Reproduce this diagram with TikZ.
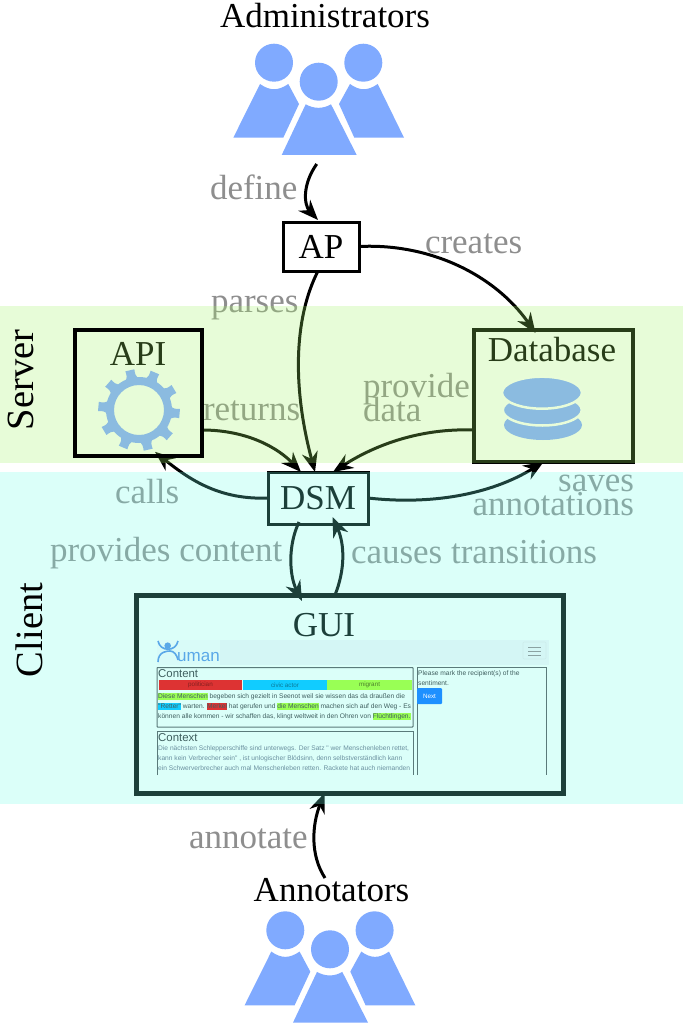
\documentclass[tikz,border=0pt]{standalone}
\usepackage{fontspec}
\setmainfont{Liberation Serif}
\newfontfamily\shotfont{Liberation Sans}
\usetikzlibrary{arrows.meta,calc}
\definecolor{lbl}{HTML}{8E8E8E}
\definecolor{srvband}{rgb}{.64,.96,.4}
\definecolor{cliband}{rgb}{.45,1,.92}
\definecolor{srvbg}{rgb}{.91,.99,.85}
\definecolor{clibg}{rgb}{.863,1,.98}
\definecolor{person}{HTML}{80AAFF}
\definecolor{iconblue}{HTML}{8BBBE0}
\definecolor{shotline}{HTML}{5A7A7A}
\definecolor{shottext}{HTML}{3F5F5F}
\definecolor{ctxtext}{HTML}{6A909F}
\definecolor{navbg}{HTML}{D4F6F5}
\definecolor{logoblue}{HTML}{5AA8E8}
\definecolor{hlred}{HTML}{DD3333}
\definecolor{hlblue}{HTML}{11CCFF}
\definecolor{hlgreen}{HTML}{99FF55}
\definecolor{nextblue}{HTML}{1E90FF}
\setlength{\fboxsep}{0pt}
\newcommand{\hlt}[2]{\colorbox{#1}{\strut #2}}
\newcommand{\peopleicon}{%
  \fill[person] (274,62.7) circle (19);
  \fill[person] (363.3,62.7) circle (19);
  \fill[person] (318.7,81.7) circle (19);
  \fill[person] (260,84) .. controls (270,91) and (278,91) .. (288.3,84) -- (299,104) -- (283.3,137.7) -- (233.3,137.7) -- cycle;
  \fill[person] (377.7,84) .. controls (367.7,91) and (359.7,91) .. (350,84) -- (339,104) -- (354.3,137.7) -- (404,137.7) -- cycle;
  \fill[person] (305.7,104.3) .. controls (314,109) and (323,109) .. (331,104.3) -- (356.7,155) -- (281.7,155) -- cycle;
}
\tikzset{
  big/.style={font=\fontsize{35}{35}\selectfont,inner sep=0pt,outer sep=0pt},
  title/.style={big,anchor=base,text=black},
  lab/.style={big,text=lbl,anchor=base west},
  labr/.style={big,text=lbl,anchor=base east},
  sidelab/.style={font=\fontsize{38.5}{38.5}\selectfont,inner sep=0pt,outer sep=0pt,rotate=90,anchor=base,text=black},
  boxn/.style={draw=black,inner sep=0pt,outer sep=0pt,minimum width=#1},
  flow/.style={draw=black,line width=3pt,-{Stealth[length=20pt,width=16pt,inset=6.5pt]}},
  bar/.style={font=\shotfont\fontsize{6.3}{6.3}\selectfont,inner sep=0pt,outer sep=0pt,minimum height=10pt,anchor=north west},
  shot/.style={font=\shotfont\fontsize{6.65}{6.65}\selectfont,text=shottext,inner sep=0pt,anchor=base west},
  ctx/.style={shot,text=ctxtext},
  shottitle/.style={font=\shotfont\fontsize{11.4}{11.4}\selectfont,text=shottext,inner sep=0pt,anchor=base west},
  pane/.style={draw=shotline,line width=1pt}
}
\begin{document}
\begin{tikzpicture}[x=1pt,y=-1pt]
\useasboundingbox (0,0) rectangle (686,1027);
\fill[white] (0,0) rectangle (686,1027);

% people
\peopleicon
\begin{scope}[shift={(11.3,867.6)}]\peopleicon\end{scope}

% texts
\node[title] (admins) at (325,28) {Administrators};
\node[title] (annots) at (331.5,901) {Annotators};
\node[lab] (ldefine) at (210,200) {define};
\node[lab] (lcreates) at (425,253) {creates};
\node[lab] (lparses) at (211,312) {parses};
\node[lab] (lreturns) at (203,420) {returns};
\node[lab] (lprovide) at (363,397) {provide};
\node[lab] (ldata) at (363,421.5) {data};
\node[lab] (lcalls) at (115,503) {calls};
\node[labr] (lsaves) at (634,491) {saves};
\node[labr] (lannot) at (634,515) {annotations};
\node[lab] (lcontent) at (50,561) {provides content};
\node[lab] (ltrans) at (351,563) {causes transitions};
\node[lab] (lannotate) at (189,848) {annotate};

% boxes
\node[boxn=76pt,line width=3pt,minimum height=49pt,big] (ap) at (321,246.5) {AP};
\node[boxn=100pt,line width=3pt,minimum height=52pt,big] (dsm) at (318,498) {DSM};
\node[boxn=159pt,line width=3.5pt,minimum height=132pt] (db) at (553.5,396) {};
\node[inner sep=0pt,minimum width=126.5pt,minimum height=125.7pt,outer sep=0pt] (api) at (138.5,393) {};
\node[boxn=427pt,line width=5pt,minimum height=198pt] (gui) at (349.5,694) {};
\node[title] (apit) at (138,365) {API};
\node[title] (dbt) at (552,361.5) {Database};
\node[title] (guit) at (324,636) {GUI};

% connectors
\coordinate (adminfoot) at (316.7,164);
\coordinate (annotfoot) at (325,878);
\draw[flow] (adminfoot) .. controls (302,185) and (304,205) .. ([xshift=-3pt,yshift=2pt]ap.north);
\draw[flow] (ap.east) .. controls (430,243) and (495,275) .. ([xshift=-18pt,yshift=-3pt]db.north);
\draw[flow] ([xshift=-3pt]ap.south) .. controls (293,320) and (293,390) .. ([xshift=-3pt]dsm.north);
\draw[flow] ([yshift=-37pt]api.east) .. controls (250,430) and (280,450) .. ([xshift=-17pt]dsm.north);
\draw[flow] ([yshift=-34pt]db.west) .. controls (420,428) and (375,445) .. ([xshift=15pt]dsm.north);
\draw[flow] (dsm.west) .. controls (220,500) and (190,480) .. ([xshift=16.5pt,yshift=4pt]api.south);
\draw[flow] (dsm.east) .. controls (430,505) and (490,495) .. ([xshift=-10pt]db.south);
\draw[flow] ([xshift=-19pt,yshift=2pt]dsm.south) .. controls (288,545) and (289,575) .. ([xshift=-47.5pt,yshift=-6pt]gui.north);
\draw[flow] ([xshift=-14.5pt]gui.north) .. controls (345,570) and (345,545) .. ([xshift=14.5pt,yshift=7pt]dsm.south);
\draw[flow] (annotfoot) .. controls (310,855) and (312,825) .. ([xshift=-25pt]gui.south);

% translucent bands over everything above
\fill[srvband,fill opacity=.25] (0,306) rectangle (683,463);
\fill[cliband,fill opacity=.25] (0,472) rectangle (683,804);

% side labels and API box stay black
\node[sidelab] (server) at (33,380) {Server};
\node[sidelab] (client) at (42,630) {Client};
\draw[black,line width=4pt] (api.south west) rectangle (api.north east);

% gear
\fill[iconblue,even odd rule] (139,410) circle (33) (139,410) circle (25);
\foreach \a in {5,41,...,329}{
  \fill[iconblue] ($(139,410)+(\a-11:32)$) .. controls ($(139,410)+(\a-7:34)$) and ($(139,410)+(\a-6.5:37)$) .. ($(139,410)+(\a-6.5:41)$)
    -- ($(139,410)+(\a+6.5:41)$) .. controls ($(139,410)+(\a+6.5:37)$) and ($(139,410)+(\a+7:34)$) .. ($(139,410)+(\a+11:32)$) -- cycle;
}

% database
\fill[iconblue] (543,425) ellipse (39 and 15);
\draw[fill=iconblue,draw=srvbg,line width=2.5pt] (542.3,410) ellipse (39.5 and 15.5);
\draw[fill=iconblue,draw=srvbg,line width=2.5pt] (542,392.7) ellipse (40 and 16);

% screenshot
\fill[navbg] (157,640) rectangle (549,665);
\fill[clibg!60!navbg] (157,640) rectangle (220,665);
\draw[logoblue,line width=1.6pt] (158,641) .. controls (160,652) and (176,652) .. (178,641);
\draw[logoblue,line width=1.6pt] (158,662) .. controls (158,651) and (168,651) .. (170,651) .. controls (174,651) and (177,655) .. (178,660);
\fill[logoblue] (167.7,645.7) circle (3.3);
\node[inner sep=0pt,anchor=base west,text=logoblue,font=\shotfont\fontsize{17}{17}\selectfont] (logo) at (177,661) {uman};
\draw[draw=navbg!96!black,line width=.6pt,rounded corners=1pt] (523,642) rectangle (546,659);
\foreach \yy in {647,651,655}{\draw[shotline!70!white,line width=.8pt] (528,\yy) -- (541,\yy);}

\draw[pane,rounded corners=.6pt] (157,667.5) rectangle (413,727);
\draw[pane] (157,775) -- (157,731) -- (413,731) -- (413,775);
\draw[pane] (417,775) -- (417,667.5) -- (546,667.5) -- (546,775);

\node[shottitle] (tcontent) at (158,677) {Content};
\node[bar,fill=hlred,minimum width=83pt,text=hlred!60!black] (barred) at (159,680) {politician};
\node[bar,fill=hlblue,minimum width=84pt,text=hlblue!60!black] (barblue) at (243,680) {civic actor};
\node[bar,fill=hlgreen,minimum width=85pt,text=hlgreen!50!black] (bargreen) at (327,680) {migrant};

\node[shot] (c1) at (158,698) {\hlt{hlgreen}{Diese Menschen} begeben sich gezielt in Seenot weil sie wissen das da draußen die};
\node[shot] (c2) at (158,708) {\hlt{hlblue}{"Retter"} warten. \hlt{hlred}{Merkel} hat gerufen und \hlt{hlgreen}{die Menschen} machen sich auf den Weg - Es};
\node[shot] (c3) at (158,718) {können alle kommen - wir schaffen das, klingt weltweit in den Ohren von \hlt{hlgreen}{Flüchtlingen.}};

\node[shottitle] (tcontext) at (158,741) {Context};
\node[ctx] (x1) at (158,750) {Die nächsten Schlepperschiffe sind unterwegs. Der Satz " wer Menschenleben rettet,};
\node[ctx] (x2) at (158,760) {kann kein Verbrecher sein" , ist unlogischer Blödsinn, denn selbstverständlich kann};
\node[ctx] (x3) at (158,770) {ein Schwerverbrecher auch mal Menschenleben retten. Rackete hat auch niemanden};

\node[shot] (p1) at (418,675) {Please mark the recipient(s) of the};
\node[shot] (p2) at (418,685) {sentiment.};
\node[fill=nextblue,inner sep=0pt,minimum width=25pt,minimum height=16pt,rounded corners=1pt,text=white,font=\shotfont\fontsize{6.3}{6.3}\selectfont] (next) at (429.5,696) {Next};
\end{tikzpicture}
\end{document}
